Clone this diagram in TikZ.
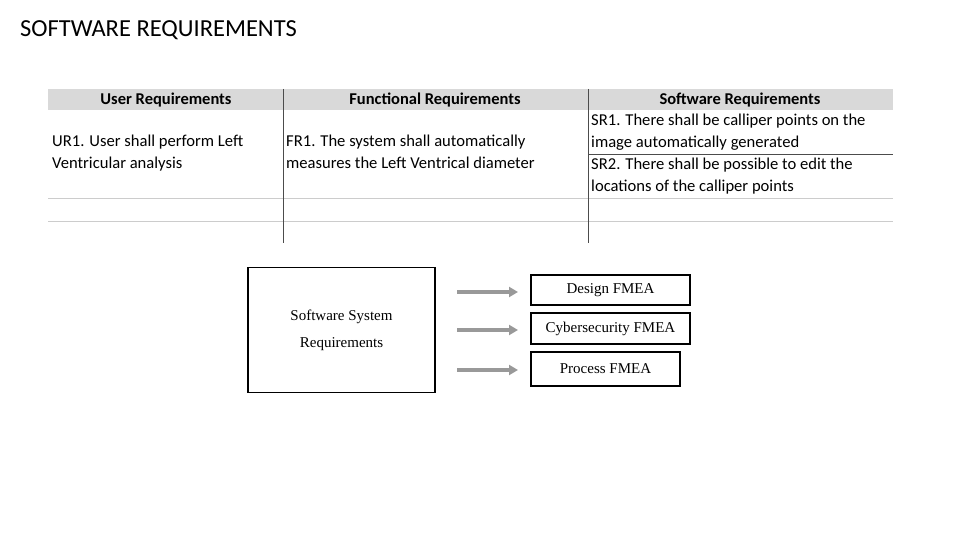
\documentclass[tikz,border=0pt]{standalone}
\usepackage{fontspec}
\setmainfont{Carlito}
\newfontfamily\serifx{Liberation Serif}
\usetikzlibrary{arrows.meta}
\tikzset{cell/.style={anchor=north west,align=left,font=\fontsize{16.6}{22}\selectfont,inner sep=0pt},
hdr/.style={font=\bfseries\fontsize{16.5}{18}\selectfont,inner sep=0pt},
fbox/.style={draw,line width=1.3pt,font=\serifx\fontsize{15}{17}\selectfont,inner sep=0pt},
garrow/.style={draw=gray!80,line width=3.5pt,-{Triangle[length=9pt,width=10pt]}}}
\begin{document}
\begin{tikzpicture}[x=1pt,y=-1pt]
\useasboundingbox (0,0) rectangle (960,540);
\node[anchor=west,font=\fontsize{24.5}{26}\selectfont,inner sep=0pt] (title) at (20,30) {SOFTWARE REQUIREMENTS};
\fill[gray!30] (48,89) rectangle (893,110);
\draw[gray!40] (48,198) -- (893,198) (48,221) -- (893,221);
\draw[black!70] (283,89) -- (283,243) (588,89) -- (588,243) (588,154) -- (893,154);
\node[hdr] (h1) at (166,100) {User Requirements};
\node[hdr] (h2) at (435,100) {Functional Requirements};
\node[hdr] (h3) at (740,100) {Software Requirements};
\node[cell] (ur) at (52,135) {UR1. User shall perform Left\\Ventricular analysis};
\node[cell] (fr) at (286,135) {FR1. The system shall automatically\\measures the Left Ventrical diameter};
\node[cell] (sr1) at (591,114) {SR1. There shall be calliper points on the\\image automatically generated};
\node[cell] (sr2) at (591,158) {SR2. There shall be possible to edit the\\locations of the calliper points};
\node[fbox,minimum width=187pt,minimum height=125pt,align=center,font=\serifx\fontsize{15}{27}\selectfont] (sys) at (341.5,330) {Software System\\Requirements};
\path (248,273) -- (435,398);
\node[fbox,minimum width=159pt,minimum height=30pt] (d) at (610.5,290) {Design FMEA};
\node[fbox,minimum width=159pt,minimum height=31pt] (c) at (610.5,328.5) {Cybersecurity FMEA};
\node[fbox,minimum width=149pt,minimum height=34pt] (p) at (605.5,369) {Process FMEA};
\coordinate (a1s) at (457,292); \coordinate (a1e) at (518,292);
\coordinate (a2s) at (457,330); \coordinate (a2e) at (518,330);
\coordinate (a3s) at (457,370); \coordinate (a3e) at (518,370);
\draw[garrow] (a1s) -- (a1e);
\draw[garrow] (a2s) -- (a2e);
\draw[garrow] (a3s) -- (a3e);
\end{tikzpicture}
\end{document}
